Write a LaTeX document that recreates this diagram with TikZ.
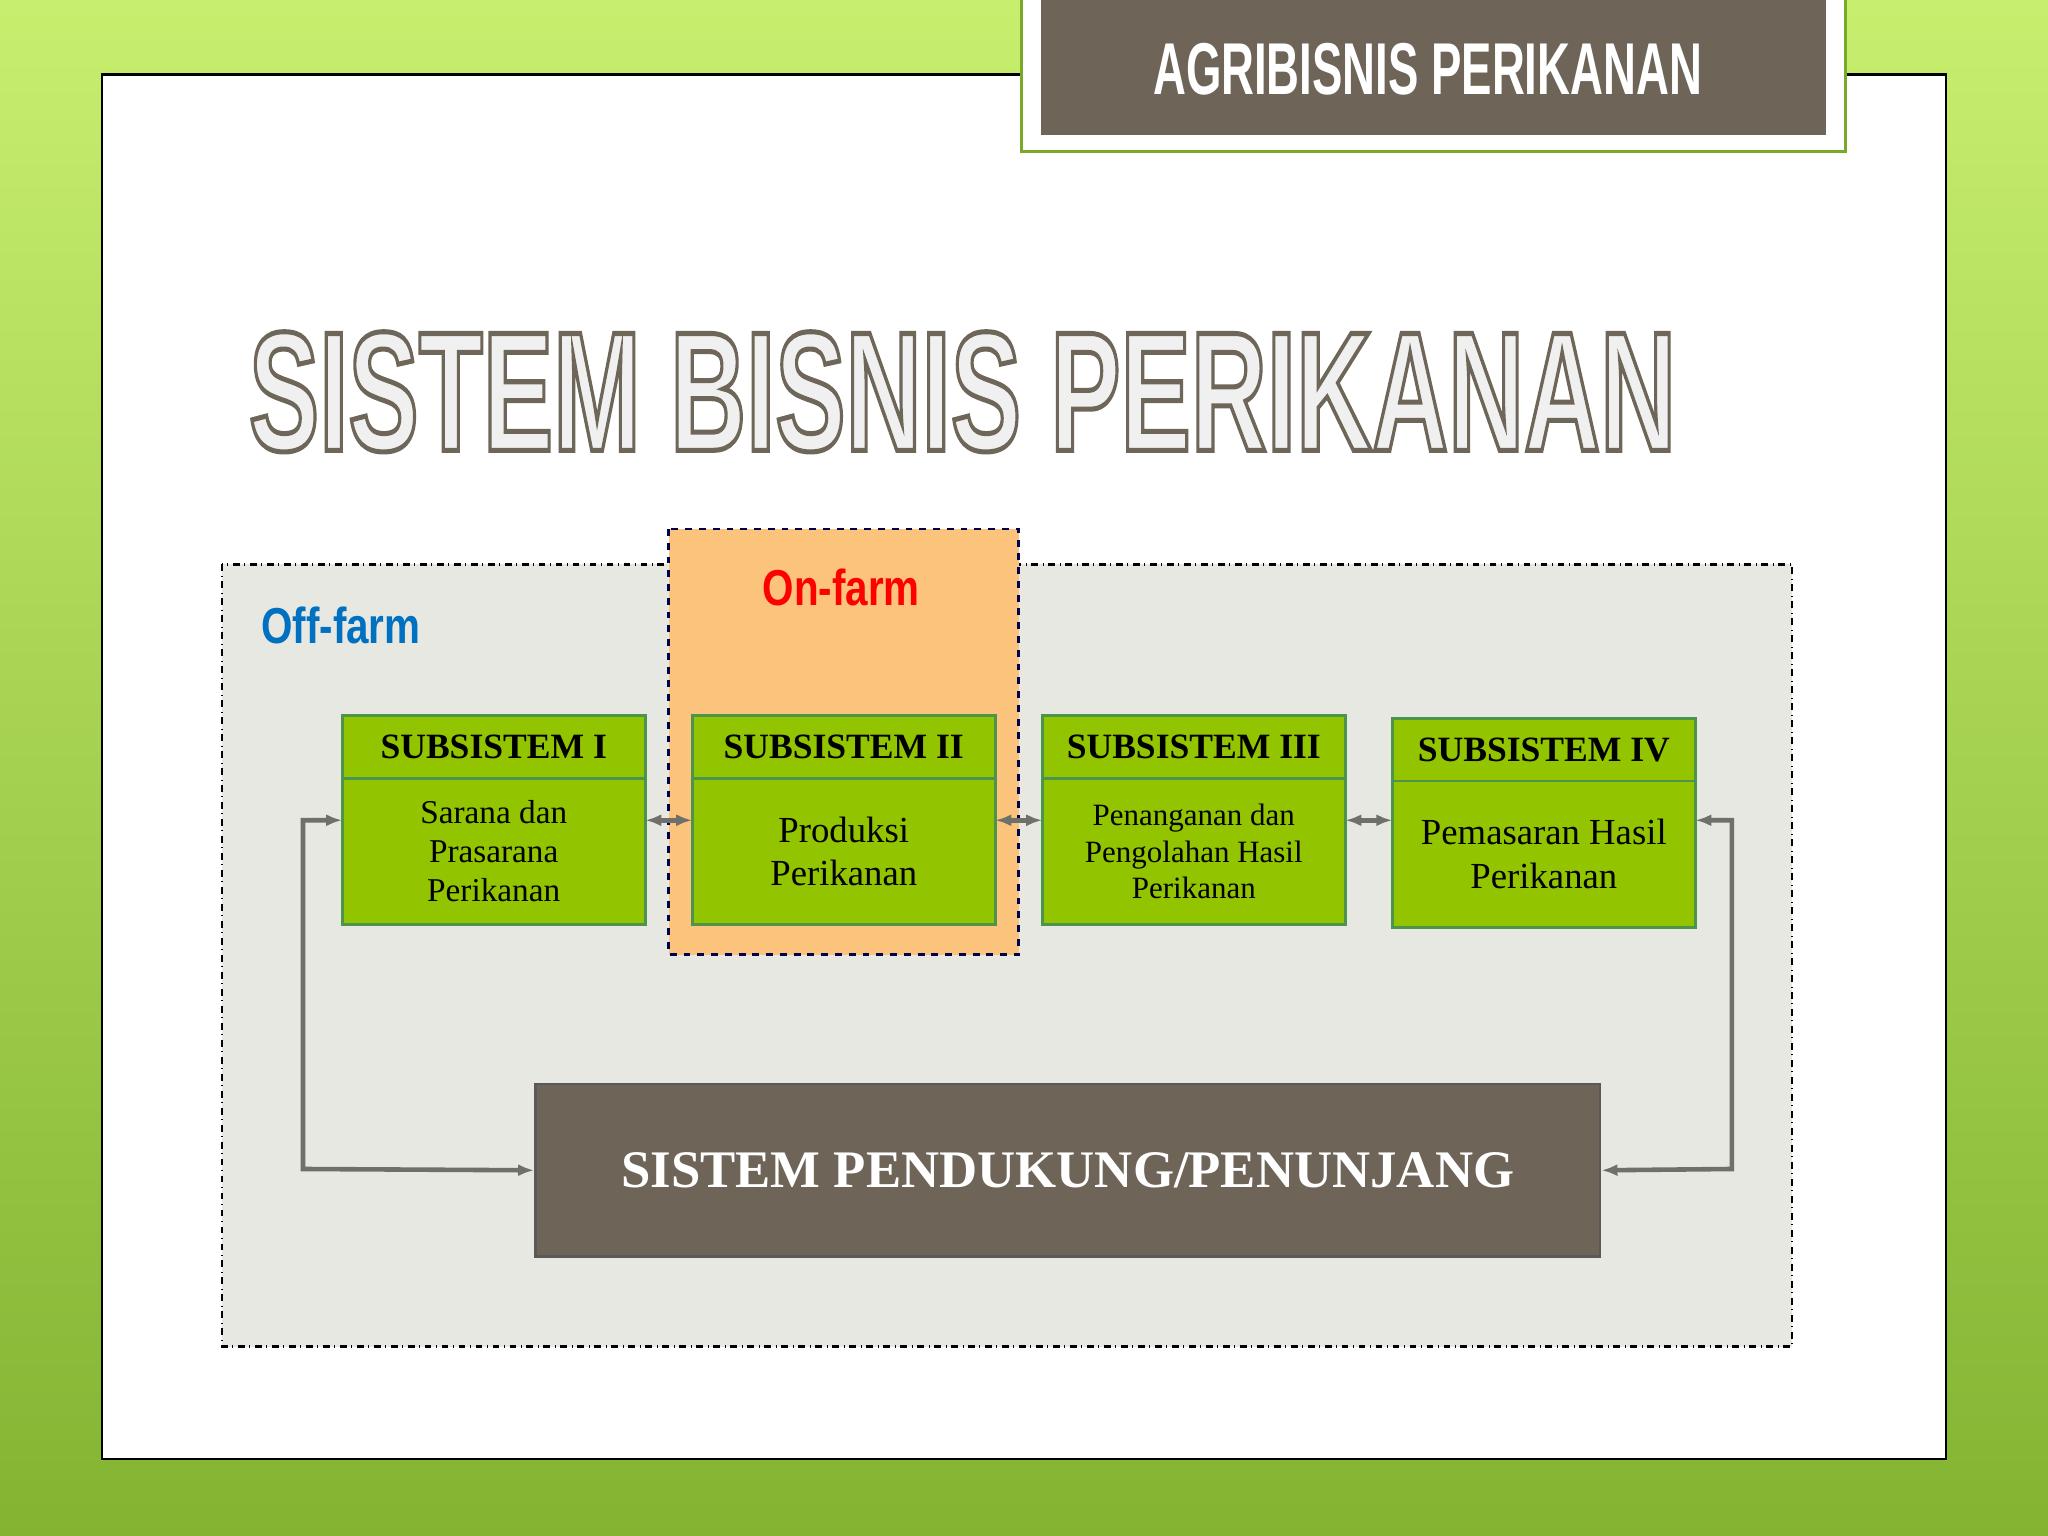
\documentclass[tikz,border=0pt]{standalone}
\usepackage{fontspec}
\usetikzlibrary{arrows.meta}
\setmainfont{Liberation Serif}
\newfontfamily\hsans{Liberation Sans}
\begin{document}
\begin{tikzpicture}[x=0.02cm,y=-0.02cm,
  sub/.style={draw=green!40!black!70,line width=1.2pt,fill=subg},
  arr/.style={draw=arrg,line width=2pt,{Latex[length=7pt]}-{Latex[length=7pt]}},
  bigt/.style={font=\hsans\bfseries\fontsize{74}{74}\selectfont,xscale=0.62}]
\definecolor{subg}{HTML}{92C400}
\definecolor{brn}{HTML}{6E6558}
\definecolor{arrg}{HTML}{70706A}
\useasboundingbox (0,0) rectangle (1568,1176);
\shade[top color={rgb,255:red,200;green,238;blue,110}, bottom color={rgb,255:red,130;green,180;blue,50}] (0,0) rectangle (1568,1176);
\fill[white,draw=black,line width=1pt] (78,57) rectangle (1490,1117);
\fill[white,draw={rgb,255:red,120;green,170;blue,40},line width=1.5pt] (782,-5) rectangle (1413,116);
\fill[brn] (797,-5) rectangle (1398,103);
\node[white,font=\hsans\bfseries\fontsize{32}{32}\selectfont,xscale=0.62] (agri) at (1093,53) {AGRIBISNIS PERIKANAN};
% big outlined title
\node[bigt,gray!12] (title) at (737,300) {\special{pdf:code 2 Tr 2.2 w 0.43 0.40 0.35 RG}SISTEM BISNIS PERIKANAN\special{pdf:code 0 Tr}};
% regions
\draw[fill={rgb,255:red,232;green,232;blue,226},dash dot,line width=1.2pt] (170,432) rectangle (1372,1031);
\draw[fill={rgb,255:red,251;green,195;blue,124},dashed,draw=blue!30!black,line width=1.2pt] (512,405) rectangle (780,731);
\node[font=\hsans\bfseries\fontsize{22}{22}\selectfont,xscale=0.8,text={rgb,255:red,0;green,112;blue,192}] (off) at (261,479) {Off-farm};
\node[font=\hsans\bfseries\fontsize{22}{22}\selectfont,xscale=0.8,red] (on) at (644,450) {On-farm};
% subsystems
\foreach \n/\x/\y/\h/\fs/\ls/\b in {1/262/548/SUBSISTEM I/14.5/17/{Sarana dan\\Prasarana\\Perikanan},
  2/530/548/SUBSISTEM II/16/19/{Produksi\\Perikanan},
  3/798/548/SUBSISTEM III/13.5/16/{Penanganan dan\\Pengolahan Hasil\\Perikanan},
  4/1066/550/SUBSISTEM IV/16/19/{Pemasaran Hasil\\Perikanan}}{
  \draw[sub] (\x,\y) rectangle (\x+232,\y+48);
  \draw[sub] (\x,\y+48) rectangle (\x+232,\y+160);
  \node[font=\bfseries\fontsize{15.5}{15.5}\selectfont] (h\n) at (\x+116,\y+24) {\h};
  \node[align=center,font=\fontsize{\fs}{\ls}\selectfont] (b\n) at (\x+116,\y+104) {\b};
  \coordinate (L\n) at (\x,628); \coordinate (R\n) at (\x+232,628);
}
\draw[arr] (R1) -- (L2);
\draw[arr] (R2) -- (L3);
\draw[arr] (R3) -- (L4);
\node[draw=gray!70!black,line width=1.2pt,fill=brn,minimum width=815*0.02cm,minimum height=132*0.02cm,text=white,font=\bfseries\fontsize{23}{23}\selectfont] (sp) at (817.5,896) {SISTEM PENDUKUNG/PENUNJANG};
\draw[arr] (L1) -- (232,628) -- (232,895) -- (sp.west);
\draw[arr] (R4) -- (1326,628) -- (1326,895) -- (sp.east);
\end{tikzpicture}
\end{document}
